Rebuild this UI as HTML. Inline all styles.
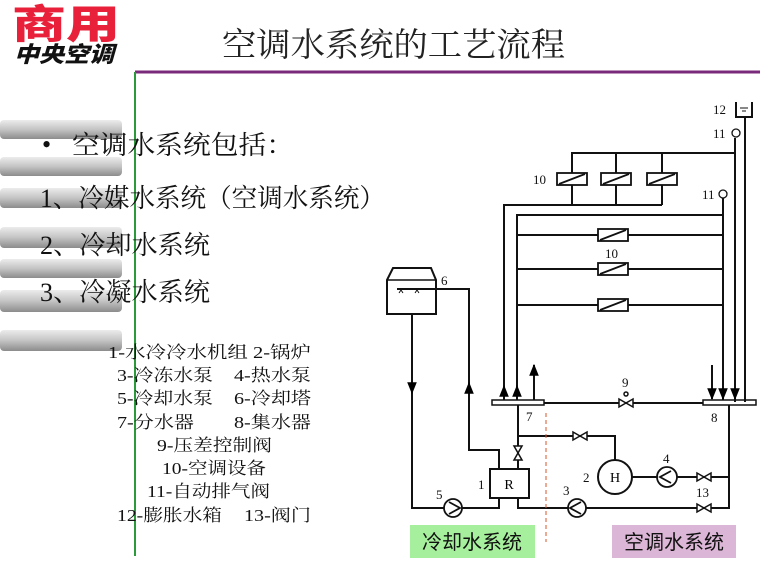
<!DOCTYPE html>
<html><head><meta charset="utf-8"><style>
body{margin:0;width:760px;height:566px;overflow:hidden;background:#fff}
svg{display:block}
.s{font-family:"Liberation Serif","Noto Serif CJK SC",serif}
</style></head><body>
<svg width="760" height="566" viewBox="0 0 760 566" xmlns="http://www.w3.org/2000/svg">
<defs>
<linearGradient id="g" x1="0" y1="0" x2="0" y2="1">
<stop offset="0" stop-color="#ececec"/><stop offset="0.5" stop-color="#c4c4c4"/><stop offset="1" stop-color="#8c8c8c"/></linearGradient>
<marker id="a" viewBox="0 0 10 10" refX="9" refY="5" markerWidth="6" markerHeight="6" orient="auto"><path d="M0,1 L10,5 L0,9 z" fill="#000"/></marker>
</defs>
<!-- logo -->
<text x="12" y="38" textLength="108" lengthAdjust="spacingAndGlyphs" font-family="'Noto Sans CJK SC',sans-serif" font-weight="900" font-size="40" fill="#e8203a">商用</text>
<text x="14" y="62" textLength="100" lengthAdjust="spacingAndGlyphs" font-family="'Noto Sans CJK SC',sans-serif" font-weight="900" font-style="italic" font-size="22" fill="#111">中央空调</text>
<!-- title -->
<text x="222" y="56" textLength="343" lengthAdjust="spacingAndGlyphs" class="s" font-size="33" fill="#222">空调水系统的工艺流程</text>
<line x1="135" y1="72" x2="760" y2="72" stroke="#7a2a7a" stroke-width="3"/>
<line x1="135" y1="72" x2="135" y2="556" stroke="#2a9a3a" stroke-width="2"/>
<!-- gray bars -->
<g fill="url(#g)">
<rect x="0" y="120" width="122" height="19" rx="4"/>
<rect x="0" y="157" width="122" height="19" rx="4"/>
<rect x="0" y="188" width="122" height="20" rx="4"/>
<rect x="0" y="227" width="122" height="21" rx="4"/>
<rect x="0" y="259" width="122" height="19" rx="4"/>
<rect x="0" y="290" width="122" height="22" rx="4"/>
<rect x="0" y="330" width="122" height="21" rx="4"/>
</g>
<g class="s" font-size="26" fill="#111">
<text x="42" y="153">•</text>
<text x="72" y="154" textLength="222" lengthAdjust="spacingAndGlyphs">空调水系统包括：</text>
<text x="40" y="207" textLength="345" lengthAdjust="spacingAndGlyphs">1、冷媒水系统（空调水系统）</text>
<text x="40" y="254" textLength="170" lengthAdjust="spacingAndGlyphs">2、冷却水系统</text>
<text x="40" y="301" textLength="170" lengthAdjust="spacingAndGlyphs">3、冷凝水系统</text>
</g>
<g class="s" font-size="17" fill="#111" lengthAdjust="spacingAndGlyphs">
<text x="108" y="358" textLength="203" lengthAdjust="spacingAndGlyphs">1-水冷冷水机组 2-锅炉</text>
<text x="117" y="381" textLength="96" lengthAdjust="spacingAndGlyphs">3-冷冻水泵</text><text x="234" y="381" textLength="77" lengthAdjust="spacingAndGlyphs">4-热水泵</text>
<text x="117" y="404" textLength="96" lengthAdjust="spacingAndGlyphs">5-冷却水泵</text><text x="234" y="404" textLength="77" lengthAdjust="spacingAndGlyphs">6-冷却塔</text>
<text x="117" y="428" textLength="77" lengthAdjust="spacingAndGlyphs">7-分水器</text><text x="234" y="428" textLength="77" lengthAdjust="spacingAndGlyphs">8-集水器</text>
<text x="157" y="451" textLength="115" lengthAdjust="spacingAndGlyphs">9-压差控制阀</text>
<text x="162" y="474" textLength="104" lengthAdjust="spacingAndGlyphs">10-空调设备</text>
<text x="147" y="497" textLength="123" lengthAdjust="spacingAndGlyphs">11-自动排气阀</text>
<text x="117" y="521" textLength="105" lengthAdjust="spacingAndGlyphs">12-膨胀水箱</text><text x="244" y="521" textLength="67" lengthAdjust="spacingAndGlyphs">13-阀门</text>
</g>
<!-- diagram -->
<g stroke="#111" stroke-width="2" fill="none">
<path d="M736,102 V117 H752 V102"/>
<line x1="740" y1="108" x2="748" y2="108" stroke-width="1"/>
<line x1="742" y1="111" x2="746" y2="111" stroke-width="1"/>
<line x1="745" y1="117" x2="745" y2="402"/>
<line x1="735" y1="138" x2="735" y2="402"/>
<circle cx="736" cy="133" r="4" stroke-width="1.3"/>
<path d="M735,153 H572 V205"/>
<line x1="616" y1="153" x2="616" y2="205"/>
<line x1="662" y1="153" x2="662" y2="205"/>
<path d="M662,205 H504 V400"/>
<circle cx="723" cy="194" r="4" stroke-width="1.3"/>
<path d="M723,198 V400"/>
<path d="M723,215 H517 V400"/>
<line x1="517" y1="235" x2="723" y2="235"/>
<line x1="517" y1="269" x2="723" y2="269"/>
<line x1="517" y1="305" x2="723" y2="305"/>
</g>
<g stroke="#111" stroke-width="1.8" fill="#fff">
<rect x="557" y="173" width="30" height="12"/><line x1="559" y1="184" x2="585" y2="174"/>
<rect x="601" y="173" width="30" height="12"/><line x1="603" y1="184" x2="629" y2="174"/>
<rect x="647" y="173" width="30" height="12"/><line x1="649" y1="184" x2="675" y2="174"/>
<rect x="598" y="229" width="30" height="12"/><line x1="600" y1="240" x2="626" y2="230"/>
<rect x="598" y="263" width="30" height="12"/><line x1="600" y1="274" x2="626" y2="264"/>
<rect x="598" y="299" width="30" height="12"/><line x1="600" y1="310" x2="626" y2="300"/>
</g>
<g class="s" font-size="13" fill="#111">
<text x="713" y="114">12</text>
<text x="713" y="138">11</text>
<text x="702" y="199">11</text>
<text x="533" y="184">10</text>
<text x="605" y="258">10</text>
<text x="441" y="285">6</text>
<text x="526" y="421">7</text>
<text x="711" y="422">8</text>
<text x="622" y="387">9</text>
<text x="478" y="489">1</text>
<text x="583" y="482">2</text>
<text x="563" y="495">3</text>
<text x="663" y="463">4</text>
<text x="436" y="499">5</text>
<text x="696" y="497">13</text>
</g>
<g stroke="#111" stroke-width="2" fill="none">
<path d="M387,280 L393,268 H431 L436,280 V314 H387 Z"/>
<line x1="387" y1="280" x2="436" y2="280" stroke-width="1.5"/>
<path d="M397,289 H469 V450 H499 V469"/>
<path d="M399,293 l2,-3 l2,3 M415,293 l2,-3 l2,3" stroke-width="1"/>
<path d="M412,314 V508 H444"/>
<path d="M462,508 H499 V498"/>
<rect x="490" y="469" width="39" height="29"/>
<rect x="492" y="400" width="52" height="5" stroke-width="1.5"/>
<rect x="703" y="400" width="53" height="5" stroke-width="1.5"/>
<line x1="544" y1="403" x2="703" y2="403"/>
<path d="M518,405 V469"/>
<path d="M518,436 H615 V460"/>
<path d="M632,477 H657"/>
<path d="M677,477 H729"/>
<path d="M729,405 V508 H586"/>
<path d="M568,508 H518 V498"/>
</g>
<g stroke="#111" stroke-width="2" marker-end="url(#a)">
<line x1="412" y1="370" x2="412" y2="393"/>
<line x1="469" y1="405" x2="469" y2="383"/>
<line x1="504" y1="400" x2="504" y2="386"/>
<line x1="517" y1="400" x2="517" y2="386"/>
<line x1="534" y1="400" x2="534" y2="365"/>
<line x1="712" y1="365" x2="712" y2="399"/>
<line x1="723" y1="380" x2="723" y2="399"/>
<line x1="735" y1="380" x2="735" y2="399"/>
</g>
<text x="509" y="489" text-anchor="middle" class="s" font-size="14">R</text>
<circle cx="615" cy="477" r="17" stroke="#111" stroke-width="2" fill="#fff"/>
<text x="615" y="482" text-anchor="middle" class="s" font-size="14">H</text>
<g stroke="#111" stroke-width="1.8" fill="#fff">
<circle cx="453" cy="508" r="9"/><path d="M449,502 L460,508 L449,514" fill="none"/>
<circle cx="577" cy="508" r="9"/><path d="M581,502 L570,508 L581,514" fill="none"/>
<circle cx="667" cy="477" r="10"/><path d="M671,471 L660,477 L671,483" fill="none"/>
</g>
<g stroke="#111" stroke-width="1.5" fill="#fff">
<path d="M619,399 L633,407 L633,399 L619,407 Z"/>
<circle cx="626" cy="394" r="2"/>
<path d="M573,432 L587,440 L587,432 L573,440 Z"/>
<path d="M697,473 L711,481 L711,473 L697,481 Z"/>
<path d="M697,504 L711,512 L711,504 L697,512 Z"/>
<path d="M514,446 L522,460 L514,460 L522,446 Z"/>
</g>
<line x1="546" y1="413" x2="546" y2="542" stroke="#d9532a" stroke-width="1" stroke-dasharray="4,3"/>
<rect x="410" y="525" width="125" height="33" fill="#a6ef9c"/>
<rect x="612" y="525" width="124" height="33" fill="#dcb6d6"/>
<g font-family="'Noto Sans CJK SC',sans-serif" font-size="20" fill="#111">
<text x="472" y="549" text-anchor="middle">冷却水系统</text>
<text x="674" y="549" text-anchor="middle">空调水系统</text>
</g>
</svg>
</body></html>
